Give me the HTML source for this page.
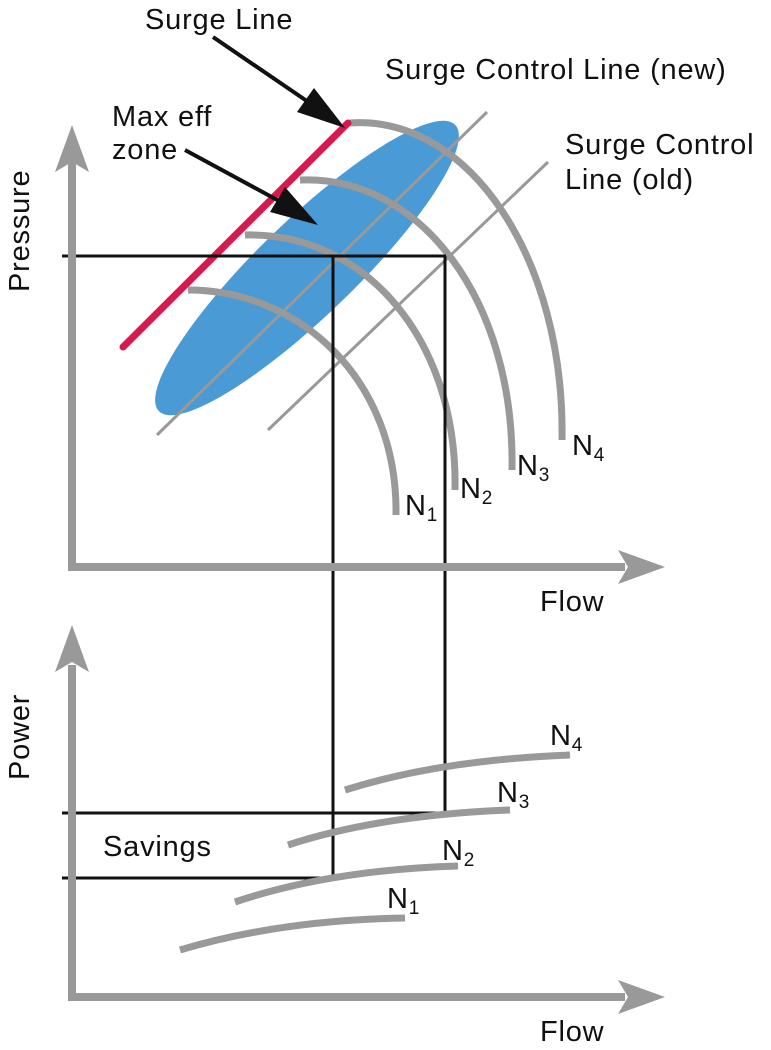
<!DOCTYPE html>
<html><head><meta charset="utf-8"><style>
html,body{margin:0;padding:0;background:#fff;}
svg{display:block;}
text{font-family:"Liberation Sans",sans-serif;fill:#111;}
</style></head><body>
<svg width="771" height="1050" viewBox="0 0 771 1050" xmlns="http://www.w3.org/2000/svg">
<ellipse cx="307" cy="268" rx="206" ry="48" transform="rotate(-44 307 268)" fill="#4a9ad6"/>
<line x1="157" y1="435" x2="487" y2="112" stroke="#999" stroke-width="3"/>
<line x1="268" y1="430" x2="548" y2="162" stroke="#999" stroke-width="3"/>
<g fill="none" stroke="#999" stroke-width="7" stroke-linecap="butt">
<path d="M350,123 C470,115 565,260 562,440"/>
<path d="M300,180 C420,175 515,300 512,470"/>
<path d="M245,235 C365,232 458,340 455,490"/>
<path d="M188,290 C300,290 398,380 396,515"/>
</g>
<line x1="123" y1="347" x2="348" y2="123" stroke="#d8194e" stroke-width="7" stroke-linecap="round"/>
<g stroke="#111" stroke-width="3" fill="none">
<line x1="62" y1="256" x2="446" y2="256"/>
<line x1="333" y1="256" x2="333" y2="878"/>
<line x1="445" y1="256" x2="445" y2="813"/>
<line x1="62" y1="813" x2="446" y2="813"/>
<line x1="62" y1="878" x2="334" y2="878"/>
</g>
<g fill="none" stroke="#999" stroke-width="7">
<path d="M345,790 Q440,760 570,755"/>
<path d="M288,845 Q380,815 510,810"/>
<path d="M235,902 Q330,870 458,866"/>
<path d="M180,950 Q280,920 405,918"/>
</g>
<g stroke="#999" stroke-width="8" fill="none">
<line x1="72" y1="570" x2="72" y2="160"/>
<line x1="68" y1="567" x2="625" y2="567"/>
<line x1="72" y1="1000" x2="72" y2="665"/>
<line x1="68" y1="997" x2="625" y2="997"/>
</g>
<g fill="#999">
<polygon points="72,125 55,172 72,162 89,172"/>
<polygon points="665,567 618,550 628,567 618,584"/>
<polygon points="72,625 55,672 72,662 89,672"/>
<polygon points="665,997 618,980 628,997 618,1014"/>
</g>
<line x1="213" y1="37" x2="320" y2="110" stroke="#111" stroke-width="4"/>
<polygon points="345,128 297,112 314,88" fill="#111"/>
<line x1="185" y1="150" x2="292" y2="208" stroke="#111" stroke-width="4"/>
<polygon points="318,225 270,212 285,187" fill="#111"/>
<g font-size="29" letter-spacing="0.8">
<text x="145" y="29">Surge Line</text>
<text x="385" y="79">Surge Control Line (new)</text>
<text x="565" y="154">Surge Control</text>
<text x="565" y="189">Line (old)</text>
<text x="112" y="126">Max eff</text>
<text x="112" y="159">zone</text>
<text x="540" y="611">Flow</text>
<text x="540" y="1041">Flow</text>
<text x="103" y="856">Savings</text>
<text transform="translate(29,292) rotate(-90)">Pressure</text>
<text transform="translate(29,780) rotate(-90)">Power</text>
<text x="405" y="515">N<tspan font-size="19" dy="6">1</tspan></text>
<text x="460" y="498">N<tspan font-size="19" dy="6">2</tspan></text>
<text x="517" y="475">N<tspan font-size="19" dy="6">3</tspan></text>
<text x="572" y="455">N<tspan font-size="19" dy="6">4</tspan></text>
<text x="550" y="745">N<tspan font-size="19" dy="6">4</tspan></text>
<text x="497" y="802">N<tspan font-size="19" dy="6">3</tspan></text>
<text x="442" y="860">N<tspan font-size="19" dy="6">2</tspan></text>
<text x="387" y="908">N<tspan font-size="19" dy="6">1</tspan></text>
</g>
</svg>
</body></html>
